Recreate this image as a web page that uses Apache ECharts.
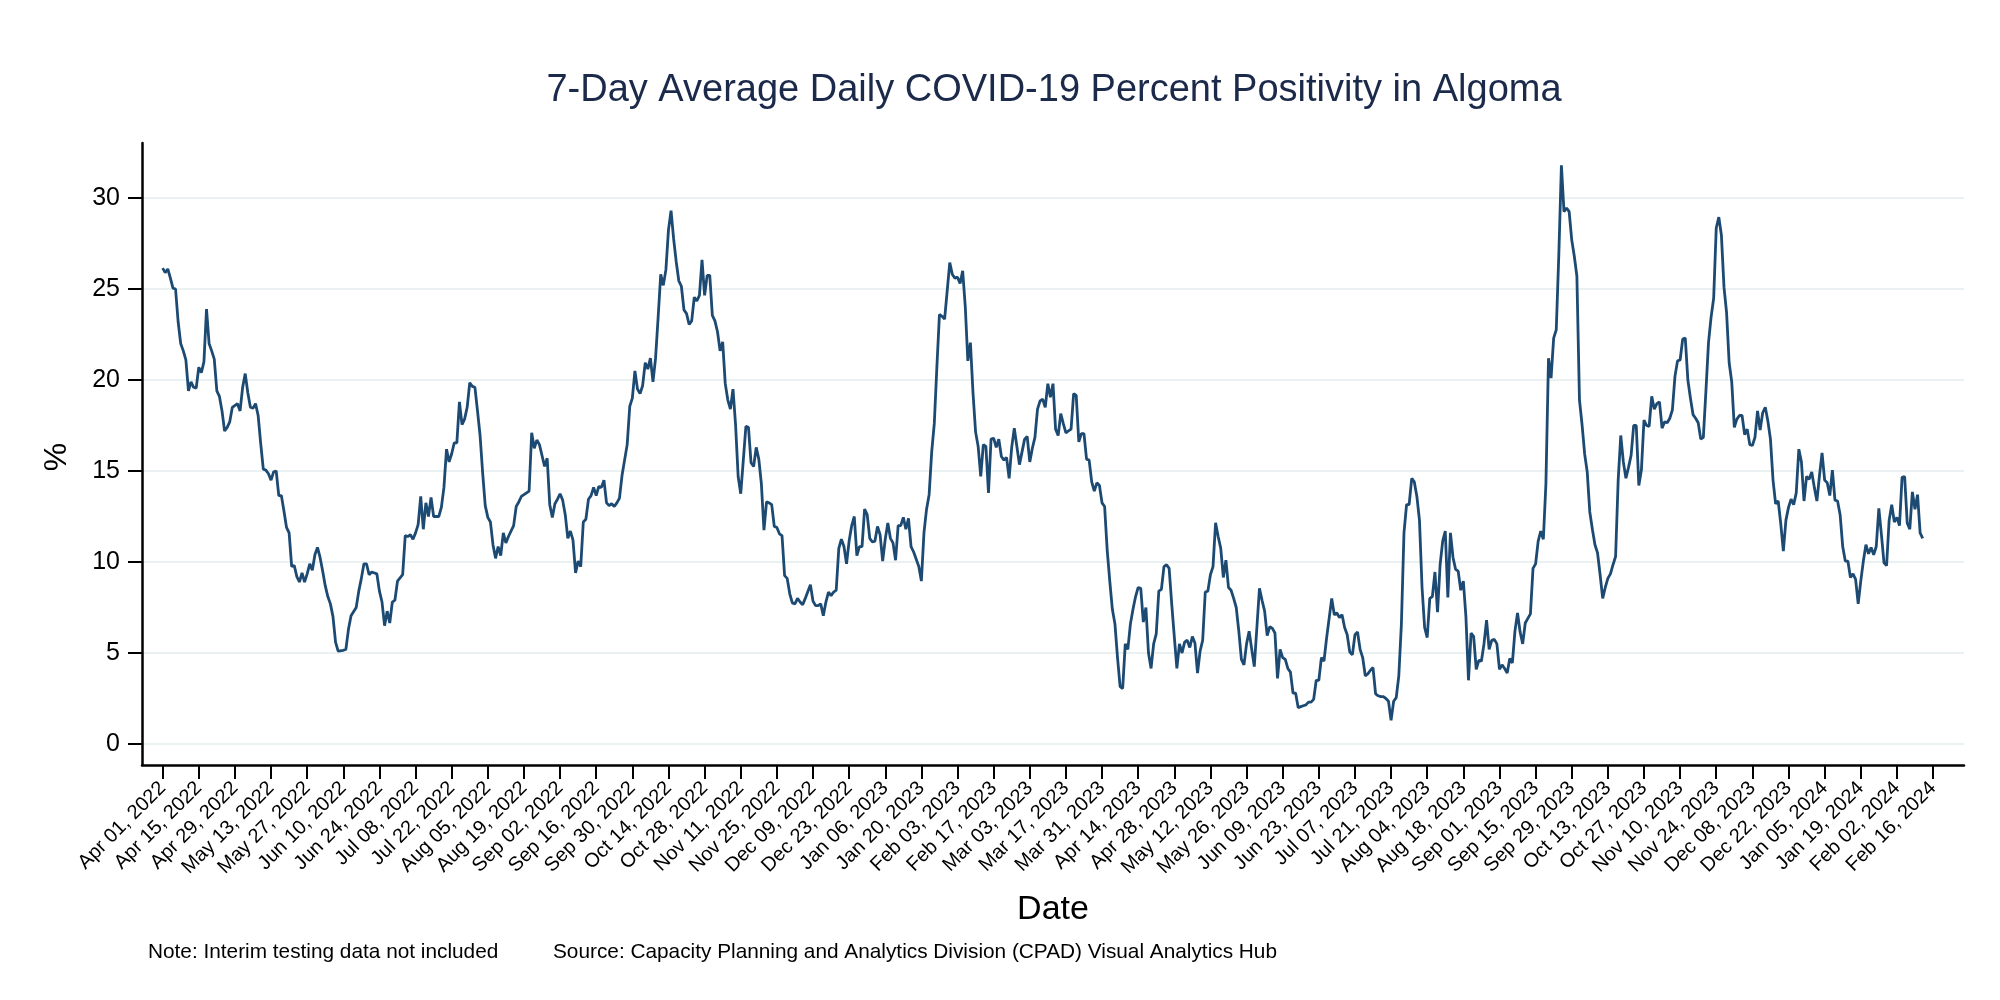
<!DOCTYPE html>
<html>
<head>
<meta charset="utf-8">
<title>7-Day Average Daily COVID-19 Percent Positivity in Algoma</title>
<script src="https://cdn.jsdelivr.net/npm/echarts@6/dist/echarts.min.js"></script>
<style>
  html, body { margin: 0; padding: 0; background: #fff; }
  #chart { width: 2000px; height: 1000px; }
</style>
</head>
<body>
<div id="chart"></div>
<script>
// 7-day average % positivity, one value per day (null = could not be read)
// each line is two weeks, starting at the date in the comment
var positivity2022 = [ // from Apr 01, 2022
  26.15, 25.9, 26.1, 25.6, 25.05, 25.0, 23.2, 22.0, 21.6, 21.1, 19.4, 19.9, 19.6, 19.55, // Apr 01
  20.7, 20.4, 21.0, 23.9, 22.0, 21.6, 21.15, 19.4, 19.1, 18.3, 17.2, 17.4, 17.7, 18.5,   // Apr 15
  null, 18.7, 18.3, 19.6, 20.35, 19.3, 18.5, 18.45, 18.7, 18.05, 16.5, 15.1, 15.05, 14.85, // Apr 29
  14.5, 14.95, 15.0, 13.65, 13.65, 12.8, 11.9, 11.6, 9.75, 9.8, 9.2, 8.9, 9.4, 8.9,      // May 13
  9.35, 9.9, 9.55, 10.4, 10.8, 10.25, 9.5, 8.7, 8.1, 7.7, 7.0, 5.6, 5.1, null,           // May 27
  5.15, 5.2, 6.3, 7.05, null, 7.5, 8.4, 9.1, 9.9, 9.9, 9.3, 9.45, null, 9.35,            // Jun 10
  8.4, 7.8, 6.5, 7.3, 6.65, 7.8, 7.9, 8.95, null, 9.3, 11.45, 11.4, 11.5, 11.25,         // Jun 24
  11.6, 12.05, 13.6, 11.8, 13.25, 12.5, 13.55, 12.5, null, 12.5, 13.0, 14.1, 16.2, 15.5, // Jul 08
  15.95, 16.55, 16.55, 18.8, 17.55, 17.85, 18.5, 19.85, 19.65, 19.6, 18.3, 16.95, 14.9, 13.1, // Jul 22
  12.45, 12.2, 10.95, 10.2, 10.85, 10.35, 11.6, 11.05, 11.4, null, 12.0, 13.05, 13.3, 13.6, // Aug 05
  null, 13.8, 13.9, 17.1, 16.25, 16.7, 16.45, 15.85, 15.25, 15.7, 13.15, 12.45, 13.2, 13.45, // Aug 19
  13.75, 13.4, 12.6, 11.3, 11.7, 11.2, 9.4, 10.05, 9.75, 12.2, 12.35, 13.45, 13.65, 14.1, // Sep 02
  13.65, 14.15, 14.1, 14.5, 13.25, 13.1, 13.2, 13.05, 13.25, 13.5, 14.75, null, 16.45, 18.55, // Sep 16
  19.0, 20.5, 19.5, 19.25, 19.7, 20.95, 20.6, 21.2, 19.9, 21.2, 23.45, 25.8, 25.2, 26.05, // Sep 30
  28.25, 29.3, 27.75, 26.5, 25.45, 25.15, 23.85, 23.65, 23.05, 23.25, 24.55, 24.35, 24.65, 26.6, // Oct 14
  24.65, 25.75, 25.75, 23.55, 23.25, 22.65, 21.6, 22.1, 19.8, 18.9, 18.4, 19.5, 17.55, 14.7, // Oct 28
  13.75, 15.6, 17.45, 17.4, 15.45, 15.25, 16.3, 15.65, 14.3, 11.75, 13.3, 13.25, 13.15, 11.95, // Nov 11
  11.9, 11.55, 11.45, 9.25, 9.1, 8.25, 7.75, 7.7, 8.0, 7.8, 7.65, 8.0, null, 8.75,       // Nov 25
  7.85, 7.6, 7.6, 7.7, 7.05, 7.8, 8.35, 8.15, 8.35, 8.45, 10.75, 11.25, 10.85, 9.9,      // Dec 09
  11.15, 12.0, 12.5, 10.35, 10.85, 10.85, 12.9, 12.6, 11.3                              // Dec 23
];
var positivity2023 = [ // from Jan 01, 2023
  11.1, 11.15, 11.95, 11.5, 10.05,                                                      // Jan 01
  11.25, 12.15, 11.3, 11.05, 10.1, 12.0, 12.0, 12.45, 11.8, 12.4, 10.85, 10.55, null, 9.75, // Jan 06
  8.95, 11.6, 12.9, 13.7, 16.05, 17.6, 20.7, 23.6, 23.5, 23.35, 24.9, 26.45, 25.8, 25.6, // Jan 20
  25.65, 25.3, 26.0, 24.05, 21.05, 22.05, 19.3, 17.15, 16.35, 14.7, 16.45, 16.35, 13.8, 16.75, // Feb 03
  16.8, 16.3, 16.75, 15.8, 15.6, 15.75, 14.6, 16.3, 17.35, 16.35, 15.35, 16.05, 16.75, 16.9, // Feb 17
  15.5, 16.25, 16.85, 18.4, 18.85, 18.95, 18.5, 19.8, 19.05, 19.8, 17.3, 16.95, 18.15, 17.6, // Mar 03
  17.1, 17.2, 17.3, 19.25, 19.15, 16.6, 17.05, 17.05, 15.65, 15.6, 14.4, 13.9, 14.35, 14.2, // Mar 17
  13.25, 13.05, 10.65, 8.95, 7.4, 6.6, 4.75, 3.15, 3.05, 5.5, 5.2, 6.6, 7.4, 8.1,        // Mar 31
  8.6, 8.55, 6.7, 7.5, 5.0, 4.15, 5.5, 6.05, 8.4, 8.5, 9.75, 9.85, 9.65, 7.7,            // Apr 14
  5.9, 4.15, 5.5, 5.0, 5.6, 5.7, 5.3, 5.9, 5.55, 3.9, 5.1, 5.7, 8.35, 8.4,               // Apr 28
  9.3, 9.75, 12.15, 11.4, 10.75, 9.15, 10.1, 8.6, 8.45, 8.0, 7.5, 6.2, 4.65, 4.35,       // May 12
  5.5, 6.2, 5.2, 4.25, 6.4, 8.55, 7.9, 7.3, 5.95, 6.45, 6.35, 6.1, 3.6, 5.2,             // May 26
  4.75, 4.65, 4.15, 3.95, 2.8, 2.8, 2.0, 2.05, 2.1, 2.15, 2.3, 2.3, 2.45, 3.5,           // Jun 09
  3.5, 4.75, 4.55, 5.8, 6.9, 8.0, 7.1, 7.2, 6.95, 7.1, 6.4, 6.0, 5.05, 4.9,              // Jun 23
  6.0, 6.15, 5.2, 4.75, 3.75, 3.85, 4.05, 4.2, 2.75, 2.65, 2.6, 2.6, 2.5, 2.35,          // Jul 07
  1.3, 2.35, 2.55, 3.75, 6.6, 11.6, 13.15, 13.15, 14.6, 14.4, 13.6, 12.3, 8.6, 6.4,      // Jul 21
  5.85, 8.0, 8.1, 9.45, 7.25, 9.85, 11.15, 11.7, 8.05, 11.6, 10.25, 9.6, 9.5, 8.45,      // Aug 04
  8.95, 7.0, 3.5, 6.1, 5.9, 4.1, 4.6, 4.55, 5.5, 6.8, 5.2, 5.7, 5.75, 5.5,               // Aug 18
  4.1, 4.35, 4.15, 3.9, 4.7, 4.45, 6.2, 7.2, 6.15, 5.5, 6.65, 6.9, 7.15, 9.65,           // Sep 01
  9.9, 11.15, 11.7, 11.25, 14.3, 21.2, 20.1, 22.3, 22.75, 26.9, 31.8, 29.25, 29.45, 29.25, // Sep 15
  27.7, 26.8, 25.7, 18.9, 17.55, 15.95, 14.95, 12.75, 11.8, 10.95, 10.5, 9.3, 8.0, 8.6,  // Sep 29
  9.1, 9.35, 9.85, 10.3, 14.5, 16.95, 15.5, 14.6, 15.2, 15.85, 17.5, 17.5, 14.2, 15.05,  // Oct 13
  17.8, 17.5, 17.45, 19.1, 18.4, 18.7, 18.8, 17.35, 17.7, 17.65, 17.9, 18.35, 20.2, 21.05, // Oct 27
  21.1, 22.25, 22.3, 20.0, 19.0, 18.1, 17.9, 17.65, 16.75, 16.85, 19.4, 22.05, 23.45, 24.5, // Nov 10
  28.35, 28.95, 27.95, 25.1, 23.7, 20.95, 19.9, 17.4, 17.85, 18.05, 18.05, 17.0, 17.3, 16.45, // Nov 24
  16.4, 16.85, 18.3, 17.25, 18.2, 18.5, 17.75, 16.75, 14.5, 13.2, 13.35, 12.1, 10.6, 12.3, // Dec 08
  13.0, 13.45, 13.15, 13.8, 16.2, 15.5, 13.35, 14.7, 14.55, 14.95                        // Dec 22
];
var positivity2024 = [ // from Jan 01, 2024
  14.1, 13.35, 14.75, 16.0,                                                             // Jan 01
  14.5, 14.35, 13.65, 15.05, 13.4, 13.35, 12.6, 10.85, 10.05, 10.05, 9.15, 9.35, 9.05, 7.7, // Jan 05
  8.95, 10.05, 10.95, 10.45, 10.8, 10.4, 10.85, 12.95, 11.5, 9.95, 9.8, 12.3, 13.15, 12.2, // Jan 19
  12.45, 12.0, 14.65, 14.7, 12.15, 11.8, 13.85, 12.9, 13.7, 11.6, 11.3                  // Feb 02
];

// labelled ticks on the date axis (every 14 days)
var tickLabels = [
  'Apr 01, 2022', 'Apr 15, 2022', 'Apr 29, 2022', 'May 13, 2022', 'May 27, 2022',
  'Jun 10, 2022', 'Jun 24, 2022', 'Jul 08, 2022', 'Jul 22, 2022', 'Aug 05, 2022',
  'Aug 19, 2022', 'Sep 02, 2022', 'Sep 16, 2022', 'Sep 30, 2022', 'Oct 14, 2022',
  'Oct 28, 2022', 'Nov 11, 2022', 'Nov 25, 2022', 'Dec 09, 2022', 'Dec 23, 2022',
  'Jan 06, 2023', 'Jan 20, 2023', 'Feb 03, 2023', 'Feb 17, 2023', 'Mar 03, 2023',
  'Mar 17, 2023', 'Mar 31, 2023', 'Apr 14, 2023', 'Apr 28, 2023', 'May 12, 2023',
  'May 26, 2023', 'Jun 09, 2023', 'Jun 23, 2023', 'Jul 07, 2023', 'Jul 21, 2023',
  'Aug 04, 2023', 'Aug 18, 2023', 'Sep 01, 2023', 'Sep 15, 2023', 'Sep 29, 2023',
  'Oct 13, 2023', 'Oct 27, 2023', 'Nov 10, 2023', 'Nov 24, 2023', 'Dec 08, 2023',
  'Dec 22, 2023', 'Jan 05, 2024', 'Jan 19, 2024', 'Feb 02, 2024', 'Feb 16, 2024'
];

var FONT = '"Liberation Sans", Arial, sans-serif';
var MONTHS = ['Jan', 'Feb', 'Mar', 'Apr', 'May', 'Jun', 'Jul', 'Aug', 'Sep', 'Oct', 'Nov', 'Dec'];
var DAY = 86400000;

function fmtDay(t) {
    var d = new Date(t);
    var dd = d.getUTCDate();
    return MONTHS[d.getUTCMonth()] + ' ' + (dd < 10 ? '0' + dd : dd) + ', ' + d.getUTCFullYear();
}

// one category per day; the axis runs a little past the first and last tick
var dayCategories = [];
for (var t = Date.UTC(2022, 2, 24); t <= Date.UTC(2024, 1, 28); t += DAY) {
    dayCategories.push(fmtDay(t));
}

function toPoints(year, month, day, values) {
    var t0 = Date.UTC(year, month, day);
    var pts = [];
    values.forEach(function (v, i) {
        if (v !== null) pts.push([fmtDay(t0 + i * DAY), v]);
    });
    return pts;
}

var seriesData = []
    .concat(toPoints(2022, 3, 1, positivity2022))
    .concat(toPoints(2023, 0, 1, positivity2023))
    .concat(toPoints(2024, 0, 1, positivity2024));

var isTick = {};
tickLabels.forEach(function (s) { isTick[s] = true; });
function onTick(index, value) { return isTick[value] === true; }

var myChart = echarts.init(document.getElementById('chart'), null, { renderer: 'canvas' });

var option = {
    backgroundColor: '#ffffff',
    animation: false,
    textStyle: { fontFamily: FONT },
    grid: [
        // data area: 0..30
        { left: 142, right: 36, top: 198, bottom: 256, containLabel: false },
        // frame: axis lines run a bit past 0 and 30
        { left: 142, right: 36, top: 143, bottom: 235, containLabel: false }
    ],
    xAxis: [
        {
            gridIndex: 0, type: 'category', data: dayCategories, boundaryGap: false, show: false
        },
        {
            gridIndex: 1, type: 'category', data: dayCategories, boundaryGap: false,
            axisLine: { lineStyle: { color: '#000', width: 2.5 } },
            axisTick: { interval: onTick, length: 14, lineStyle: { color: '#000', width: 2 } },
            axisLabel: {
                interval: onTick, rotate: 45, margin: 20,
                fontSize: 20, color: '#000', fontFamily: FONT
            },
            splitLine: { show: false },
            name: 'Date', nameLocation: 'middle', nameGap: 128,
            nameTextStyle: { fontSize: 34, color: '#000', fontFamily: FONT }
        }
    ],
    yAxis: [
        {
            gridIndex: 0, type: 'value', min: 0, max: 30, interval: 5,
            axisLine: { show: false },
            axisTick: { show: true, length: 14, lineStyle: { color: '#000', width: 2 } },
            axisLabel: { margin: 22, fontSize: 25, color: '#000', fontFamily: FONT },
            splitLine: { show: true, lineStyle: { color: '#e9f1f3', width: 2 } }
        },
        {
            gridIndex: 1, type: 'value', min: 0, max: 1,
            axisLine: { show: true, lineStyle: { color: '#000', width: 2.5 } },
            axisTick: { show: false },
            axisLabel: { show: false },
            splitLine: { show: false }
        }
    ],
    graphic: [
        {
            type: 'text', x: 1054, y: 91,
            style: {
                text: '7-Day Average Daily COVID-19 Percent Positivity in Algoma',
                fill: '#1b2a4a', font: '38px ' + FONT, align: 'center', verticalAlign: 'middle'
            }
        },
        {
            type: 'text', x: 57, y: 457, rotation: Math.PI / 2,
            style: { text: '%', fill: '#000', font: '32px ' + FONT, align: 'center', verticalAlign: 'middle' }
        },
        {
            type: 'text', x: 148, y: 952,
            style: { text: 'Note: Interim testing data not included', fill: '#000', font: '20.8px ' + FONT, verticalAlign: 'middle' }
        },
        {
            type: 'text', x: 553, y: 952,
            style: { text: 'Source: Capacity Planning and Analytics Division (CPAD) Visual Analytics Hub', fill: '#000', font: '20.8px ' + FONT, verticalAlign: 'middle' }
        }
    ],
    series: [{
        name: '7-Day Average % Positivity',
        type: 'line',
        xAxisIndex: 0,
        yAxisIndex: 0,
        data: seriesData,
        showSymbol: false,
        clip: false,
        lineStyle: { color: '#1d4a72', width: 2.8 }
    }]
};

myChart.setOption(option);
</script>
</body>
</html>
